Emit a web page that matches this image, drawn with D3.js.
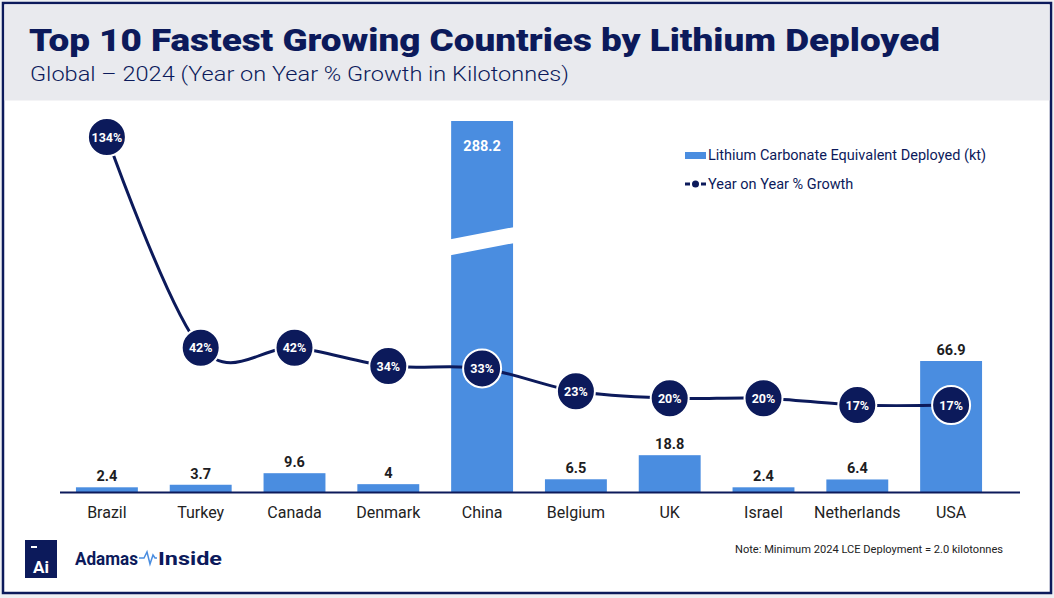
<!DOCTYPE html>
<html>
<head>
<meta charset="utf-8">
<script src="https://cdn.jsdelivr.net/npm/d3@7"></script>
<style>
  html, body { margin: 0; padding: 0; background: #eef0f3; }
  svg { display: block; font-family: Roboto, "Noto Sans", sans-serif; }
</style>
</head>
<body>
<div id="chart"></div>
<script>
// chart data
const countries = ["Brazil", "Turkey", "Canada", "Denmark", "China", "Belgium", "UK", "Israel", "Netherlands", "USA"];
const lceDeployed = [2.4, 3.7, 9.6, 4, 288.2, 6.5, 18.8, 2.4, 6.4, 66.9];
const yoyGrowth = [134, 42, 42, 34, 33, 23, 20, 20, 17, 17];
const barLabels = ["2.4", "3.7", "9.6", "4", "288.2", "6.5", "18.8", "2.4", "6.4", "66.9"];

const navy = "#0c1a5b";
const barBlue = "#4a8de0";

const width = 1054, height = 598;

const svg = d3.select("#chart").append("svg")
  .attr("width", width)
  .attr("height", height);

// frame + header
svg.append("rect")
  .attr("x", 3).attr("y", 3).attr("width", width - 6).attr("height", height - 8)
  .attr("fill", "#fff").attr("stroke", navy).attr("stroke-width", 2.5);
svg.append("rect")
  .attr("x", 4.5).attr("y", 4.5).attr("width", width - 9).attr("height", 96)
  .attr("fill", "#e9eaee");

svg.append("text")
  .attr("x", 29).attr("y", 51)
  .attr("fill", navy)
  .attr("font-size", 32).attr("font-weight", 900)
  .attr("textLength", 911).attr("lengthAdjust", "spacingAndGlyphs")
  .text("Top 10 Fastest Growing Countries by Lithium Deployed");
svg.append("text")
  .attr("x", 30).attr("y", 81)
  .attr("fill", navy)
  .attr("font-size", 20).attr("font-weight", 300)
  .attr("textLength", 539).attr("lengthAdjust", "spacingAndGlyphs")
  .text("Global \u2013 2024 (Year on Year % Growth in Kilotonnes)");

// scales
const margin = {left: 60, right: 56};
const baseY = 492;

const x = d3.scaleBand()
  .domain(countries)
  .range([margin.left, 998])
  .paddingInner(0.34)
  .paddingOuter(0.17);

// broken axis: linear up to the USA range, then compressed for China
const y = d3.scaleLinear()
  .domain([0, 100, 288.2])
  .range([baseY, baseY - 195.8, 121]);

const yGrowth = d3.scaleLinear()
  .domain([0, 134])
  .range([444, 137]);

// bars
const bars = svg.append("g");
bars.selectAll("rect")
  .data(lceDeployed)
  .join("rect")
  .attr("x", (d, i) => x(countries[i]))
  .attr("y", d => y(d))
  .attr("width", x.bandwidth())
  .attr("height", d => baseY - y(d))
  .attr("fill", barBlue);

// break on the China bar
const iChina = countries.indexOf("China");
const bx0 = x(countries[iChina]) - 2, bx1 = bx0 + x.bandwidth() + 4;
const by = y(161);
svg.append("path")
  .attr("d", `M${bx0},${by} L${bx1},${by - 12.5} L${bx1},${by + 3.5} L${bx0},${by + 16} Z`)
  .attr("fill", "#fff");

// bar value labels
svg.append("g").selectAll("text")
  .data(lceDeployed)
  .join("text")
  .attr("x", (d, i) => x(countries[i]) + x.bandwidth() / 2)
  .attr("y", (d, i) => i === iChina ? y(d) + 30 : y(d) - 6)
  .attr("text-anchor", "middle")
  .attr("font-size", 14.5).attr("font-weight", 700)
  .attr("fill", (d, i) => i === iChina ? "#fff" : "#1d1d22")
  .text((d, i) => barLabels[i]);

// axis
const xAxis = g => g
  .attr("transform", `translate(0,${baseY})`)
  .call(d3.axisBottom(x).tickSize(0).tickPadding(15))
  .call(g => g.select(".domain").attr("d", `M${margin.left},0.5H${width - 34}`)
    .attr("stroke", navy).attr("stroke-width", 2))
  .call(g => g.selectAll("text")
    .attr("font-size", 16).attr("fill", "#222")
    .attr("font-family", "Roboto, sans-serif"));
svg.append("g").call(xAxis);

// growth line (smoothed like the spreadsheet one)
const line = d3.line()
  .x((d, i) => x(countries[i]) + x.bandwidth() / 2)
  .y(d => yGrowth(d))
  .curve(d3.curveCardinal.tension(0));

svg.append("path")
  .datum(yoyGrowth)
  .attr("d", line)
  .attr("fill", "none")
  .attr("stroke", navy)
  .attr("stroke-width", 3);

const dots = svg.append("g").selectAll("g")
  .data(yoyGrowth)
  .join("g")
  .attr("transform", (d, i) => `translate(${x(countries[i]) + x.bandwidth() / 2},${yGrowth(d)})`);
dots.append("circle")
  .attr("r", 19)
  .attr("fill", navy)
  .attr("stroke", "#fff")
  .attr("stroke-width", 2);
dots.append("text")
  .attr("text-anchor", "middle")
  .attr("dy", "0.36em")
  .attr("fill", "#fff")
  .attr("font-size", 12.5).attr("font-weight", 700)
  .text(d => d + "%");

// legend
const legend = svg.append("g").attr("transform", "translate(685,155)");
legend.append("rect")
  .attr("x", 0).attr("y", -3).attr("width", 21).attr("height", 7)
  .attr("fill", barBlue);
legend.append("text")
  .attr("x", 23).attr("y", 5)
  .attr("fill", navy).attr("font-size", 14.5)
  .text("Lithium Carbonate Equivalent Deployed (kt)");
legend.append("line")
  .attr("x1", 0).attr("x2", 21).attr("y1", 29).attr("y2", 29)
  .attr("stroke", navy).attr("stroke-width", 3).attr("stroke-dasharray", "5,3");
legend.append("circle")
  .attr("cx", 10.5).attr("cy", 29).attr("r", 3.5).attr("fill", navy);
legend.append("text")
  .attr("x", 23).attr("y", 34)
  .attr("fill", navy).attr("font-size", 14.5)
  .text("Year on Year % Growth");

// footer logo
const logo = svg.append("g").attr("transform", "translate(25,540)");
logo.append("rect").attr("width", 32).attr("height", 38).attr("fill", navy);
logo.append("rect").attr("x", 6).attr("y", 6).attr("width", 6).attr("height", 2).attr("fill", "#fff");
logo.append("text").attr("x", 8).attr("y", 33)
  .attr("fill", "#fff").attr("font-size", 17).attr("font-weight", 700).text("Ai");
svg.append("text")
  .attr("x", 75).attr("y", 565)
  .attr("fill", navy).attr("font-size", 18).attr("font-weight", 700)
  .attr("textLength", 63).attr("lengthAdjust", "spacingAndGlyphs")
  .text("Adamas");
svg.append("path")
  .attr("d", "M139,558 L144,558 L147,552 L150,564 L153,555 L155,558 L157,558")
  .attr("fill", "none").attr("stroke", "#4a8de0").attr("stroke-width", 1.5);
svg.append("text")
  .attr("x", 158).attr("y", 565)
  .attr("fill", navy).attr("font-size", 18).attr("font-weight", 700)
  .attr("textLength", 64).attr("lengthAdjust", "spacingAndGlyphs")
  .text("Inside");

svg.append("text")
  .attr("x", 1003).attr("y", 553)
  .attr("text-anchor", "end")
  .attr("fill", "#222").attr("font-size", 10.5)
  .attr("textLength", 268).attr("lengthAdjust", "spacingAndGlyphs")
  .text("Note: Minimum 2024 LCE Deployment = 2.0 kilotonnes");
</script>
</body>
</html>
